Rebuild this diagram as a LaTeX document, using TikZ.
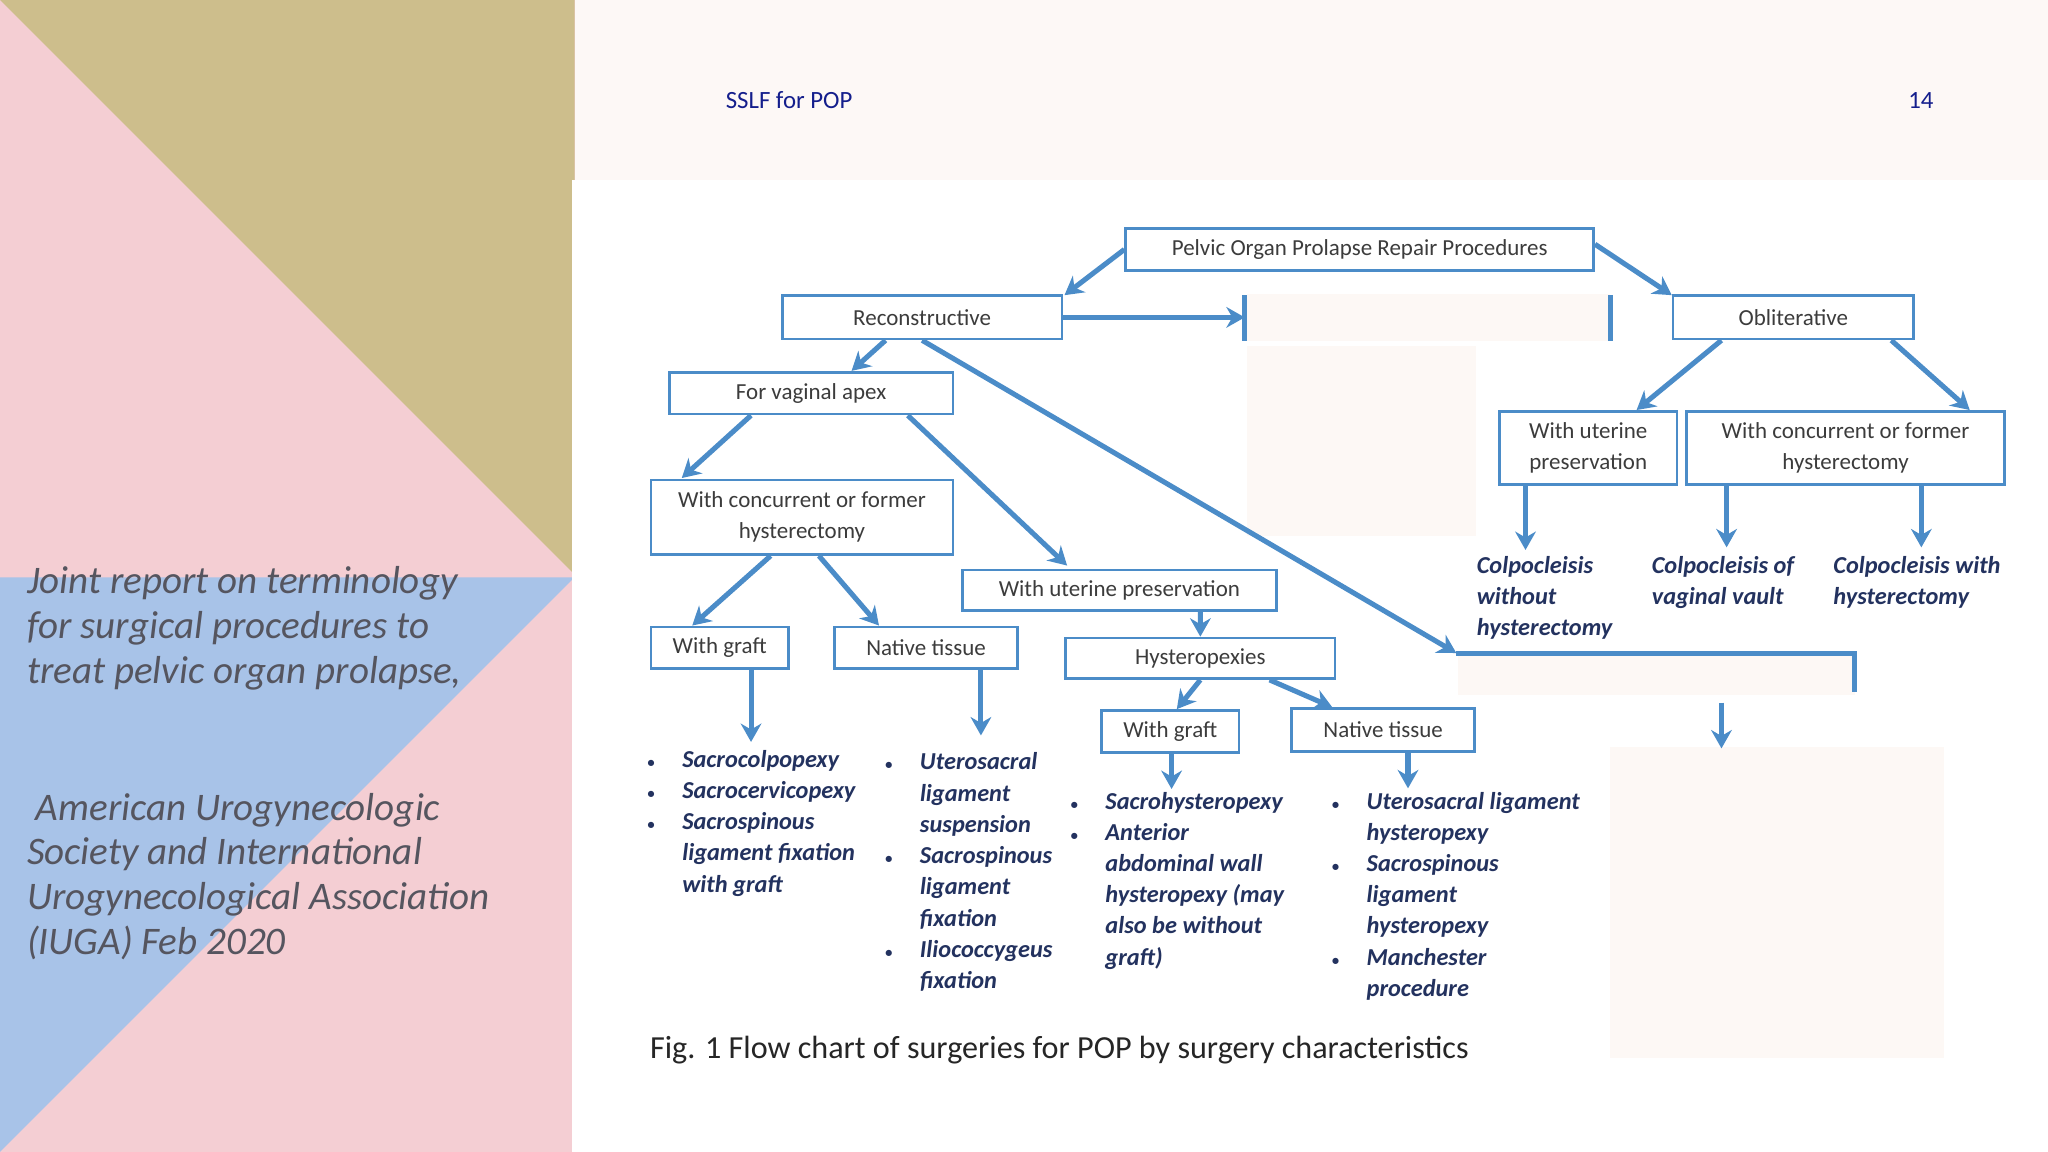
\documentclass[tikz,border=0pt]{standalone}
\usepackage{fontspec}
\setmainfont{Carlito}
\usetikzlibrary{arrows.meta}
\definecolor{khaki}{RGB}{205,190,140}
\definecolor{rose}{RGB}{244,206,211}
\definecolor{sky}{RGB}{168,195,232}
\definecolor{headbg}{RGB}{253,248,246}
\definecolor{mask}{RGB}{253,248,245}
\definecolor{flow}{RGB}{75,140,200}
\definecolor{boxtext}{RGB}{60,60,60}
\definecolor{listtext}{RGB}{35,50,95}
\definecolor{navy}{RGB}{20,30,140}
\definecolor{sidetext}{RGB}{85,85,95}
\tikzset{>={Stealth[scale=1]}}
\tikzset{
  box/.style={draw=flow, line width=0.6pt, fill=white, inner sep=0pt, text=boxtext,
    font=\fontsize{5}{6.8}\selectfont, align=center},
  flowline/.style={draw=flow, line width=1.1pt},
  flowarrow/.style={flowline, -{Stealth[length=4pt,width=4.5pt]}},
  bolditem/.style={anchor=north west, inner sep=0pt, text=listtext, align=left,
    font=\fontsize{5.3}{6.8}\selectfont\bfseries\itshape},
  side/.style={anchor=west, inner sep=0pt, text=sidetext, align=left,
    font=\fontsize{8.5}{9.7}\selectfont\itshape}
}
\newcommand{\bl}{\scalebox{0.6}{\textbullet}}
\begin{document}
\begin{tikzpicture}[x=0.01cm,y=-0.01cm]
\useasboundingbox (0,0) rectangle (1568,882);
% side panel
\fill[rose] (0,0) rectangle (440,882);
\fill[khaki] (0,0) -- (440,0) -- (440,440) -- cycle;
\fill[sky] (0,442) -- (440,442) -- (0,882) -- cycle;
\fill[headbg] (440,0) rectangle (1568,138);
\fill[white] (438,138) rectangle (1568,882);
\node[side] (t1) at (20,481) {Joint report on terminology\\for surgical procedures to\\treat pelvic organ prolapse,};
\node[side] (t2) at (20,671) {\ American Urogynecologic\\Society and International\\Urogynecological Association\\(IUGA) Feb 2020};
\node[anchor=west, inner sep=0pt, text=navy, font=\fontsize{5.4}{6.5}\selectfont] (hd) at (555,77) {SSLF for POP};
\node[anchor=east, inner sep=0pt, text=navy, font=\fontsize{5.4}{6.5}\selectfont] (pg) at (1481,77) {14};

% masked regions
\fill[mask] (955,225) rectangle (1233,261);
\fill[mask] (955,265) rectangle (1130,410);
\fill[mask] (1116,502) rectangle (1420,532);
\fill[mask] (1233,572) rectangle (1488,810);

% boxes
\node[box, minimum width=3.58cm, minimum height=0.32cm] (pop) at (1041,191) {Pelvic Organ Prolapse Repair Procedures};
\node[box, minimum width=2.14cm, minimum height=0.33cm] (rec) at (706,243) {Reconstructive};
\node[box, minimum width=1.84cm, minimum height=0.33cm] (obl) at (1373,243) {Obliterative};
\node[box, minimum width=2.17cm, minimum height=0.32cm] (apex) at (621,301) {For vaginal apex};
\node[box, minimum width=2.31cm, minimum height=0.57cm] (conc) at (614,396) {With concurrent or former\\hysterectomy};
\node[box, minimum width=2.40cm, minimum height=0.31cm] (utp) at (857,452) {With uterine preservation};
\node[box, minimum width=1.05cm, minimum height=0.32cm] (gr) at (551,496) {With graft};
\node[box, minimum width=1.40cm, minimum height=0.32cm] (nat) at (709,496) {Native tissue};
\node[box, minimum width=2.06cm, minimum height=0.31cm] (hys) at (919,504) {Hysteropexies};
\node[box, minimum width=1.05cm, minimum height=0.32cm] (gr2) at (896,560) {With graft};
\node[box, minimum width=1.40cm, minimum height=0.33cm] (nat2) at (1059,559) {Native tissue};
\node[box, minimum width=1.36cm, minimum height=0.56cm] (utr) at (1216,343) {With uterine\\preservation};
\node[box, minimum width=2.43cm, minimum height=0.56cm] (concr) at (1413,343) {With concurrent or former\\hysterectomy};

% connectors
\draw[flowarrow] (pop.west) -- (815,226);
\draw[flowarrow] ([yshift=0.04cm]pop.east) -- (1280,226);
\draw[flowarrow] (rec.east) -- (953,243);
\draw[flowline] (953,226) -- (953,261);
\draw[flowline] (1233,226) -- (1233,261);
\draw[flowarrow] ([xshift=-0.28cm]rec.south) -- ([xshift=0.31cm]apex.north);
\draw[flowarrow] (rec.south) -- (1115,500);
\draw[flowline] (1115,500) -- (1420,500) -- (1420,530);
\draw[flowarrow] (1318,538) -- (1318,573);
\draw[flowarrow] ([xshift=-0.55cm]obl.south) -- ([xshift=0.37cm]utr.north);
\draw[flowarrow] ([xshift=0.75cm]obl.south) -- ([xshift=0.95cm]concr.north);
\draw[flowarrow] ([xshift=-0.48cm]utr.south) -- ++(0,49);
\draw[flowarrow] ([xshift=-0.91cm]concr.south) -- ++(0,47);
\draw[flowarrow] ([xshift=0.58cm]concr.south) -- ++(0,47);
\draw[flowarrow] ([xshift=-0.46cm]apex.south) -- (522,366);
\draw[flowarrow] ([xshift=0.74cm]apex.south) -- (817,433);
\draw[flowarrow] ([xshift=-0.24cm]conc.south) -- ([xshift=-0.21cm]gr.north);
\draw[flowarrow] ([xshift=0.13cm]conc.south) -- ([xshift=-0.36cm]nat.north);
\draw[flowarrow] ([xshift=0.24cm]gr.south) -- ++(0,55);
\draw[flowarrow] ([xshift=0.42cm]nat.south) -- ++(0,50);
\draw[flowarrow] ([xshift=0.62cm]utp.south) -- (hys.north);
\draw[flowarrow] (hys.south) -- ([xshift=0.05cm]gr2.north);
\draw[flowarrow] ([xshift=0.53cm]hys.south) -- ([xshift=-0.39cm]nat2.north);
\draw[flowarrow] ([xshift=0.01cm]gr2.south) -- ++(0,27);
\draw[flowarrow] ([xshift=0.19cm]nat2.south) -- ++(0,27);

% obliterative results
\node[bolditem] (c1) at (1130,425) {Colpocleisis\\without\\hysterectomy};
\node[bolditem] (c2) at (1264,425) {Colpocleisis of\\vaginal vault};
\node[bolditem] (c3) at (1403,425) {Colpocleisis with\\hysterectomy};

% procedure lists
\node[bolditem] (l1) at (495,570) {\begin{tabular}{@{}l@{\hspace{6pt}}l@{}}
\bl & Sacrocolpopexy\\ \bl & Sacrocervicopexy\\ \bl & Sacrospinous\\ & ligament fixation\\ & with graft\end{tabular}};
\node[bolditem] (l2) at (677,572) {\begin{tabular}{@{}l@{\hspace{6pt}}l@{}}
\bl & Uterosacral\\ & ligament\\ & suspension\\ \bl & Sacrospinous\\ & ligament\\ & fixation\\ \bl & Iliococcygeus\\ & fixation\end{tabular}};
\node[bolditem] (l3) at (819,602) {\begin{tabular}{@{}l@{\hspace{6pt}}l@{}}
\bl & Sacrohysteropexy\\ \bl & Anterior\\ & abdominal wall\\ & hysteropexy (may\\ & also be without\\ & graft)\end{tabular}};
\node[bolditem] (l4) at (1019,602) {\begin{tabular}{@{}l@{\hspace{6pt}}l@{}}
\bl & Uterosacral ligament\\ & hysteropexy\\ \bl & Sacrospinous\\ & ligament\\ & hysteropexy\\ \bl & Manchester\\ & procedure\end{tabular}};

\node[anchor=west, inner sep=0pt, text=black!85, font=\fontsize{7}{8}\selectfont] (cap) at (497,804) {Fig. 1 Flow chart of surgeries for POP by surgery characteristics};
\end{tikzpicture}
\end{document}
